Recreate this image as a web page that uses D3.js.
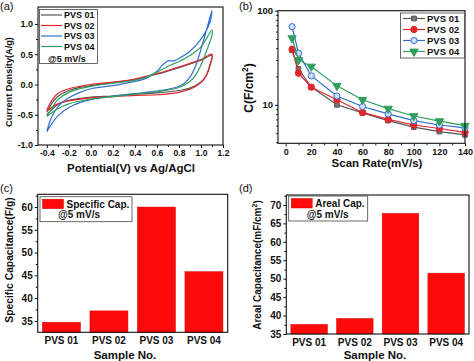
<!DOCTYPE html>
<html>
<head>
<meta charset="utf-8">
<script src="https://cdn.jsdelivr.net/npm/d3@7"></script>
<style>
  body { margin: 0; background: #fff; }
  svg text { font-family: "Liberation Sans", Arial, sans-serif; font-weight: bold; fill: #111; }
</style>
</head>
<body>
<div id="chart"></div>
<script>
// ---- data ----
var samples = ["PVS 01", "PVS 02", "PVS 03", "PVS 04"];
var colors = ["#555555", "#e3262c", "#2f6fd0", "#2e9f5c"];

// (a) CV loops at 5 mV/s : [potential V, current A/g], forward sweep then reverse sweep
var cv01 = [[-0.4,-0.46],[-0.35,-0.3],[-0.3,-0.2],[-0.2,-0.1],[-0.1,-0.05],[0,-0.02],[0.2,0.03],[0.4,0.08],[0.6,0.17],[0.8,0.28],[1.0,0.4],[1.1,0.48],
            [1.08,0.3],[1.05,0.15],[1.0,0.04],[0.9,-0.06],[0.8,-0.1],[0.6,-0.14],[0.4,-0.16],[0.2,-0.19],[0,-0.21],[-0.2,-0.26],[-0.3,-0.33],[-0.4,-0.5]];
var cv02 = [[-0.4,-0.42],[-0.35,-0.25],[-0.3,-0.15],[-0.2,-0.07],[-0.1,-0.03],[0,0.0],[0.2,0.04],[0.4,0.09],[0.6,0.18],[0.8,0.29],[1.0,0.41],[1.1,0.5],
            [1.08,0.32],[1.05,0.16],[1.0,0.03],[0.9,-0.08],[0.8,-0.13],[0.6,-0.17],[0.4,-0.18],[0.2,-0.2],[0,-0.22],[-0.2,-0.27],[-0.3,-0.32],[-0.4,-0.44]];
var cv03 = [[-0.4,-0.78],[-0.37,-0.6],[-0.33,-0.45],[-0.28,-0.33],[-0.2,-0.22],[-0.1,-0.13],[0,-0.07],[0.2,-0.02],[0.4,0.05],[0.5,0.1],[0.6,0.22],[0.65,0.32],[0.7,0.39],[0.75,0.39],[0.8,0.43],[0.9,0.55],[1.0,0.75],[1.08,1.02],
            [1.1,1.22],[1.05,0.9],[1.0,0.58],[0.95,0.3],[0.9,0.12],[0.85,0.02],[0.8,-0.03],[0.7,-0.08],[0.6,-0.11],[0.4,-0.15],[0.2,-0.19],[0,-0.25],[-0.1,-0.3],[-0.2,-0.38],[-0.3,-0.52],[-0.4,-0.78]];
var cv04 = [[-0.4,-0.53],[-0.35,-0.38],[-0.3,-0.25],[-0.2,-0.13],[-0.1,-0.07],[0,-0.03],[0.2,0.02],[0.4,0.07],[0.5,0.12],[0.6,0.2],[0.7,0.3],[0.8,0.38],[0.9,0.48],[1.0,0.62],[1.1,0.9],
            [1.1,0.82],[1.05,0.55],[1.0,0.32],[0.95,0.15],[0.9,0.05],[0.8,-0.05],[0.6,-0.12],[0.4,-0.16],[0.2,-0.2],[0,-0.24],[-0.2,-0.32],[-0.3,-0.4],[-0.4,-0.53]];

// (b) capacitance vs scan rate
var scanRates = [5, 10, 20, 40, 60, 80, 100, 120, 140];
var cap01 = [38, 24, 15.4, 10, 8.2, 6.8, 5.8, 5.2, 4.8];
var cap02 = [39, 21.7, 15.4, 11.3, 8.3, 7.0, 6.1, 5.6, 5.1];
var cap03 = [67.7, 35.3, 20.3, 12.4, 9.6, 8.0, 6.8, 6.1, 5.7];
var cap04 = [51, 30, 25.5, 15.9, 11.3, 9.1, 7.6, 6.7, 6.0];

// (c), (d) bars @5 mV/s
var specificCap = [34.7, 37.2, 60.0, 45.8];
var arealCap = [37.6, 39.2, 67.7, 51.5];

var W = 474, H = 361;
var svg = d3.select("#chart").append("svg").attr("width", W).attr("height", H);

// draws the plot box
function frame(x0, y0, x1, y1) {
  svg.append("rect").attr("x", x0).attr("y", y0).attr("width", x1 - x0).attr("height", y1 - y0)
     .attr("fill", "none").attr("stroke", "#111").attr("stroke-width", 1.1);
}
function styleAxis(g, fs) {
  g.select(".domain").remove();
  g.selectAll("line").attr("stroke", "#111");
  g.selectAll("text").attr("font-size", fs + "px").attr("fill", "#111");
}
function panelLabel(txt, x, y) {
  svg.append("text").attr("x", x).attr("y", y).attr("font-size", "11px")
     .style("font-weight", "normal").text(txt);
}
function yTitle(txt, x, y, fs, sup) {
  var t = svg.append("text").attr("transform", "translate(" + x + "," + y + ") rotate(-90)")
     .attr("text-anchor", "middle").attr("font-size", fs + "px").text(txt);
  if (sup) {
    t.append("tspan").attr("font-size", (fs * 0.7) + "px").attr("dy", -fs * 0.4).text(sup);
    t.append("tspan").attr("dy", fs * 0.4).text(")");
  }
}

// ================= (a) CV =================
var ax = d3.scaleLinear().domain([-0.48, 1.2]).range([38, 223]);
var ay = d3.scaleLinear().domain([-1, 1.28]).range([145, 7]);

var line_a = d3.line().x(function(d) { return ax(d[0]); }).y(function(d) { return ay(d[1]); })
               .curve(d3.curveCatmullRom.alpha(0.5));
[cv01, cv02, cv03, cv04].forEach(function(c, i) {
  svg.append("path").attr("d", line_a(c)).attr("fill", "none")
     .attr("stroke", colors[i]).attr("stroke-width", 1.2);
});

svg.append("g").attr("transform", "translate(0,145)")
   .call(d3.axisBottom(ax).tickValues([-0.4,-0.2,0,0.2,0.4,0.6,0.8,1.0,1.2]).tickSize(3).tickPadding(2)
         .tickFormat(function(d) { return d.toFixed(1); }))
   .call(styleAxis, 8.5);
svg.append("g").attr("transform", "translate(38,0)")
   .call(d3.axisLeft(ay).tickValues([-1,-0.5,0,0.5,1]).tickSize(3).tickPadding(2)
         .tickFormat(function(d) { return d.toFixed(1); }))
   .call(styleAxis, 9);
svg.append("g").attr("transform", "translate(0,145)")
   .call(d3.axisBottom(ax).tickValues([-0.3,-0.1,0.1,0.3,0.5,0.7,0.9,1.1]).tickSize(2).tickFormat(""))
   .call(styleAxis, 8);
svg.append("g").attr("transform", "translate(38,0)")
   .call(d3.axisLeft(ay).tickValues([-0.75,-0.25,0.25,0.75]).tickSize(2).tickFormat(""))
   .call(styleAxis, 8);
frame(38, 7, 223, 145);

// legend (a)
svg.append("rect").attr("x", 39.5).attr("y", 9.5).attr("width", 58).attr("height", 54)
   .attr("fill", "#fff").attr("stroke", "#444").attr("stroke-width", 0.8);
samples.forEach(function(s, i) {
  var yy = 15 + i * 10.5;
  svg.append("line").attr("x1", 41).attr("x2", 62).attr("y1", yy).attr("y2", yy)
     .attr("stroke", colors[i]).attr("stroke-width", 1.2);
  svg.append("text").attr("x", 64).attr("y", yy + 3.2).attr("font-size", "9px").text(s);
});
svg.append("text").attr("x", 48).attr("y", 62).attr("font-size", "9px").text("@5 mV/s");

svg.append("text").attr("x", 131).attr("y", 172).attr("text-anchor", "middle")
   .attr("font-size", "11.5px").text("Potential(V) vs Ag/AgCl");
yTitle("Current Density(A/g)", 11.5, 82, 9.2);
panelLabel("(a)", 0, 10);

// ================= (b) C vs scan rate =================
var bx = d3.scaleLinear().domain([-6, 140]).range([278, 465]);
var by = d3.scaleLog().domain([3.9, 100]).range([143.3, 10.7]);
var caps = [cap01, cap02, cap03, cap04];
var markers = [
  {type: d3.symbolSquare, size: 22, fill: "#777", stroke: "#555", rot: 0},
  {type: d3.symbolCircle, size: 32, fill: "#e3262c", stroke: "#e3262c", rot: 0},
  {type: d3.symbolCircle, size: 30, fill: "#cfe0f7", stroke: "#2f6fd0", rot: 0},
  {type: d3.symbolTriangle, size: 30, fill: "#2e9f5c", stroke: "#2e9f5c", rot: 180}
];
var line_b = d3.line().x(function(d, i) { return bx(scanRates[i]); }).y(function(d) { return by(d); });

svg.append("g").attr("transform", "translate(0,143.3)")
   .call(d3.axisBottom(bx).tickValues([0,20,40,60,80,100,120,140]).tickSize(3).tickPadding(2))
   .call(styleAxis, 9);
svg.append("g").attr("transform", "translate(0,143.3)")
   .call(d3.axisBottom(bx).tickValues([10,30,50,70,90,110,130]).tickSize(2).tickFormat(""))
   .call(styleAxis, 8);
svg.append("g").attr("transform", "translate(278,0)")
   .call(d3.axisLeft(by).tickValues([10, 100]).tickSize(3).tickPadding(2).tickFormat(d3.format("d")))
   .call(styleAxis, 9.5);
svg.append("g").attr("transform", "translate(278,0)")
   .call(d3.axisLeft(by).tickValues([4,5,6,7,8,9,20,30,40,50,60,70,80,90]).tickSize(1.8).tickFormat(""))
   .call(styleAxis, 8);

caps.forEach(function(c, i) {
  svg.append("path").attr("d", line_b(c)).attr("fill", "none")
     .attr("stroke", colors[i]).attr("stroke-width", 1.2);
  var m = markers[i];
  svg.selectAll(null).data(c).enter().append("path")
     .attr("d", d3.symbol().type(m.type).size(m.size))
     .attr("transform", function(d, j) { return "translate(" + bx(scanRates[j]) + "," + by(d) + ") rotate(" + m.rot + ")"; })
     .attr("fill", m.fill).attr("stroke", m.stroke).attr("stroke-width", 1);
});
frame(278, 10.7, 465, 143.3);

// legend (b)
svg.append("rect").attr("x", 400.5).attr("y", 13).attr("width", 64).attr("height", 45)
   .attr("fill", "#fff").attr("stroke", "#444").attr("stroke-width", 0.8);
samples.forEach(function(s, i) {
  var yy = 18.5 + i * 11;
  var m = markers[i];
  svg.append("line").attr("x1", 403).attr("x2", 425).attr("y1", yy).attr("y2", yy)
     .attr("stroke", colors[i]).attr("stroke-width", 1.2);
  svg.append("path").attr("d", d3.symbol().type(m.type).size(m.size)())
     .attr("transform", "translate(414," + yy + ") rotate(" + m.rot + ")")
     .attr("fill", m.fill).attr("stroke", m.stroke).attr("stroke-width", 1);
  svg.append("text").attr("x", 427).attr("y", yy + 3.4).attr("font-size", "9.5px").text(s);
});

svg.append("text").attr("x", 377).attr("y", 167).attr("text-anchor", "middle")
   .attr("font-size", "11.5px").text("Scan Rate(mV/s)");
yTitle("C(F/cm", 253, 88, 12, "2");
panelLabel("(b)", 239, 10);

// ================= bar panels (c) and (d) =================
function barPanel(vals, x0, x1, y0, y1, dom, ticks, minor, legendTxt, leg) {
  var x = d3.scaleBand().domain(samples).range([x0, x1]).paddingInner(0.2).paddingOuter(0.1);
  var y = d3.scaleLinear().domain(dom).range([y1, y0]);
  svg.selectAll(null).data(vals).enter().append("rect")
     .attr("x", function(d, i) { return x(samples[i]); })
     .attr("width", x.bandwidth())
     .attr("y", function(d) { return y(d); })
     .attr("height", function(d) { return y1 - y(d); })
     .attr("fill", "#ff0a0a").attr("stroke", "#d00000").attr("stroke-width", 0.5);
  svg.append("g").attr("transform", "translate(0," + y1 + ")")
     .call(d3.axisBottom(x).tickSize(0).tickPadding(5))
     .call(styleAxis, 10);
  svg.append("g").attr("transform", "translate(" + x0 + ",0)")
     .call(d3.axisLeft(y).tickValues(ticks).tickSize(3).tickPadding(2))
     .call(styleAxis, 10);
  svg.append("g").attr("transform", "translate(" + x0 + ",0)")
     .call(d3.axisLeft(y).tickValues(minor).tickSize(2).tickFormat(""))
     .call(styleAxis, 8);
  frame(x0, y0, x1, y1);
  // legend
  svg.append("rect").attr("x", leg.bx).attr("y", leg.by).attr("width", leg.bw).attr("height", 25)
     .attr("fill", "#fff").attr("stroke", "#444").attr("stroke-width", 0.8);
  svg.append("rect").attr("x", leg.bx + 2.5).attr("y", leg.by + 2.5).attr("width", 21).attr("height", 9.5)
     .attr("fill", "#ff0a0a").attr("stroke", "#d00000").attr("stroke-width", 0.5);
  svg.append("text").attr("x", leg.bx + 26.5).attr("y", leg.by + 11).attr("font-size", "10px").text(legendTxt);
  svg.append("text").attr("x", leg.bx + 18).attr("y", leg.by + 21.5).attr("font-size", "10px").text("@5 mV/s");
}

barPanel(specificCap, 37.7, 227.7, 194.3, 332.3, [32.5, 62.8], [35,40,45,50,55,60],
         [37.5,42.5,47.5,52.5,57.5,62.5], "Specific Cap.", {bx: 40, by: 196.7, bw: 92});
svg.append("text").attr("x", 125).attr("y", 359).attr("text-anchor", "middle")
   .attr("font-size", "11.5px").text("Sample No.");
yTitle("Specific Capacitance(F/g)", 12.5, 260, 10.3);
panelLabel("(c)", 0, 192);

barPanel(arealCap, 286.3, 469, 195, 334, [35, 72.7], [35,40,45,50,55,60,65,70],
         [37.5,42.5,47.5,52.5,57.5,62.5,67.5,72.5], "Areal Cap.", {bx: 288.7, by: 196, bw: 79});
svg.append("text").attr("x", 375).attr("y", 359).attr("text-anchor", "middle")
   .attr("font-size", "11.5px").text("Sample No.");
yTitle("Areal Capacitance(mF/cm", 260.5, 265, 10, "2");
panelLabel("(d)", 239, 192);
</script>
</body>
</html>
